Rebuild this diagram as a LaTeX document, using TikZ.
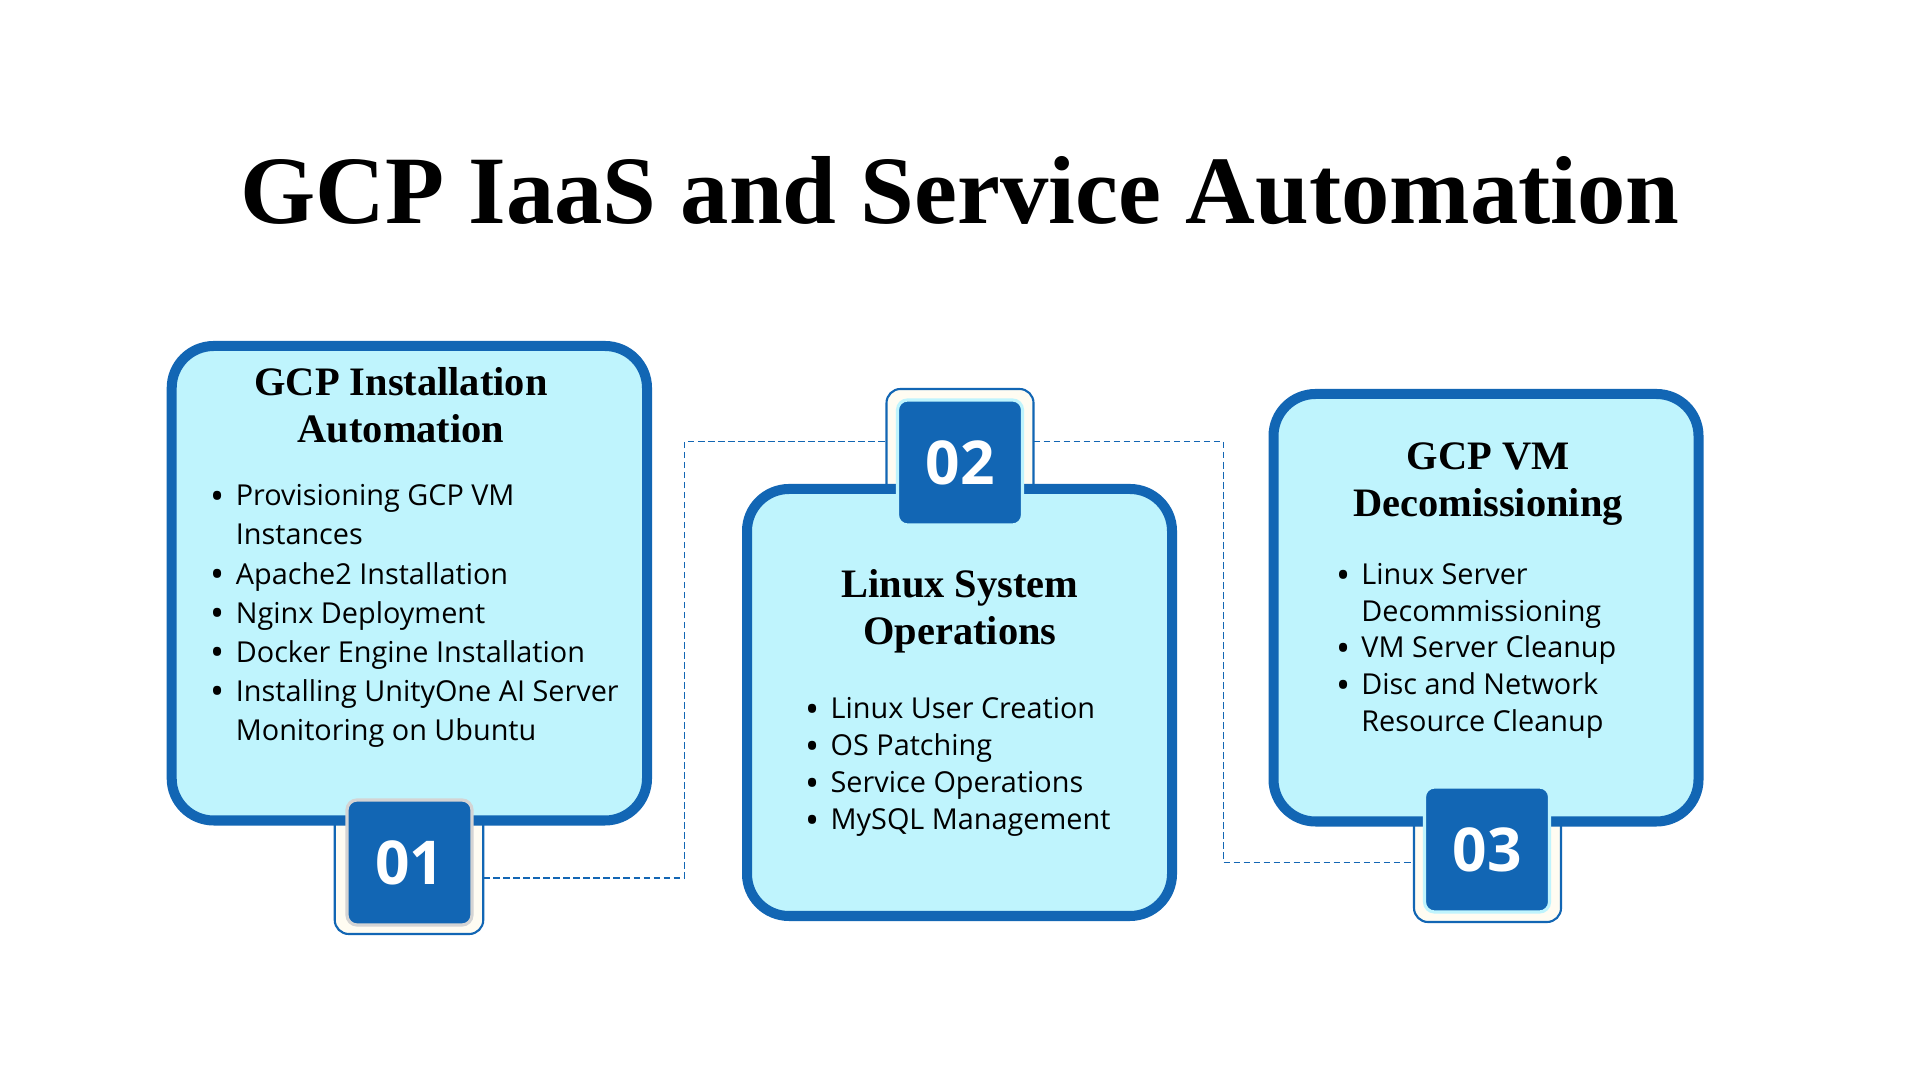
\documentclass[tikz,border=0pt]{standalone}
\usepackage{fontspec}
\setmainfont{Open Sans}
\newfontfamily\headfont{Liberation Serif}
\usepackage{xcolor}
\usepackage{tikz}
\usetikzlibrary{arrows.meta,positioning,calc}

\definecolor{gcpblue}{HTML}{1266B4}
\definecolor{cardfill}{HTML}{BFF4FD}
\definecolor{tabfill}{HTML}{FFFCF2}
\definecolor{ringgray}{HTML}{D4D4D4}

\newcommand{\bl}{\makebox[7.1pt][l]{\raisebox{-1.1pt}[0pt][0pt]{\scalebox{1.3}{\textbullet}}}}

\begin{document}
\begin{tikzpicture}[
  card/.style={draw=gcpblue, fill=cardfill, line width=2.85pt, rounded corners=0.42cm, inner sep=0pt},
  tab/.style={draw=gcpblue, fill=tabfill, line width=0.6pt, rounded corners=0.14cm, inner sep=0pt, outer sep=0pt},
  badge/.style={fill=gcpblue, draw=cardfill, line width=0.9pt, minimum size=1.25cm, rounded corners=0.1cm,
    inner sep=0pt, text=white, font=\bfseries\fontsize{17.2}{20}\selectfont},
  head/.style={anchor=base, inner sep=0pt, font=\headfont\bfseries\fontsize{11.5}{13.3}\selectfont},
  items/.style={anchor=base west, inner sep=0pt},
  link/.style={draw=gcpblue, line width=0.45pt, dash pattern=on 1.9pt off 0.95pt},
]
\fill[white] (0,0) rectangle (19.2,10.8);
% heading
\node[anchor=base, inner sep=0pt, font=\headfont\bfseries\fontsize{27.5}{33}\selectfont] (title) at (9.6,8.56)
  {GCP IaaS and Service Automation};
% number tabs behind the cards
\node[tab, minimum width=1.485cm, minimum height=1.44cm] (f1) at (4.09,2.18) {};
\node[tab, minimum width=1.47cm, minimum height=1.41cm] (f2) at (9.60,6.205) {};
\node[tab, minimum width=1.47cm, minimum height=1.42cm] (f3) at (14.875,2.29) {};
% cards
\node[card, minimum width=4.753cm, minimum height=4.745cm] (c1) at (4.0935,4.9675) {};
\node[card, minimum width=4.25cm, minimum height=4.27cm] (c2) at (9.595,3.775) {};
\node[card, minimum width=4.25cm, minimum height=4.275cm] (c3) at (14.86,4.7225) {};
% badges
\node[badge, draw=ringgray] (b1) at (4.095,2.175) {01};
\node[badge] (b2) at (9.60,6.175) {02};
\node[badge] (b3) at (14.87,2.305) {03};
% card headings
\node[head] (h1) at (4.01,6.84) {\begin{tabular}[t]{@{}c@{}}GCP Installation\\Automation\end{tabular}};
\node[head] (h2) at (9.60,4.825) {\begin{tabular}[t]{@{}c@{}}Linux System\\Operations\end{tabular}};
\node[head] (h3) at (14.88,6.10) {\begin{tabular}[t]{@{}c@{}}GCP VM\\Decomissioning\end{tabular}};
% bullet lists
\node[items] (l1) at (2.102,5.74) {\fontsize{8.2}{11.1}\selectfont
  \begin{tabular}[t]{@{}l@{}l@{}}
  \bl & Provisioning GCP VM\\
      & Instances\\
  \bl & Apache2 Installation\\
  \bl & Nginx Deployment\\
  \bl & Docker Engine Installation\\
  \bl & Installing UnityOne AI Server\\
      & Monitoring on Ubuntu
  \end{tabular}};
\node[items] (l2) at (8.05,3.61) {\fontsize{8.2}{10.45}\selectfont
  \begin{tabular}[t]{@{}l@{}l@{}}
  \bl & Linux User Creation\\
  \bl & OS Patching\\
  \bl & Service Operations\\
  \bl & MySQL Management
  \end{tabular}};
\node[items] (l3) at (13.357,4.955) {\fontsize{8.2}{10.45}\selectfont
  \begin{tabular}[t]{@{}l@{}l@{}}
  \bl & Linux Server\\
      & Decommissioning\\
  \bl & VM Server Cleanup\\
  \bl & Disc and Network\\
      & Resource Cleanup
  \end{tabular}};
% dashed links between the tabs
\coordinate (k1) at (6.845,2.02);
\coordinate (k2) at (6.845,6.385);
\coordinate (k3) at (12.235,6.385);
\coordinate (k4) at (12.235,2.175);
\draw[link] (f1.east |- k1) -- (k1) -- (k2) -- (f2.west |- k2);
\draw[link] (f2.east |- k3) -- (k3) -- (k4) -- (f3.west |- k4);
\end{tikzpicture}
\end{document}
